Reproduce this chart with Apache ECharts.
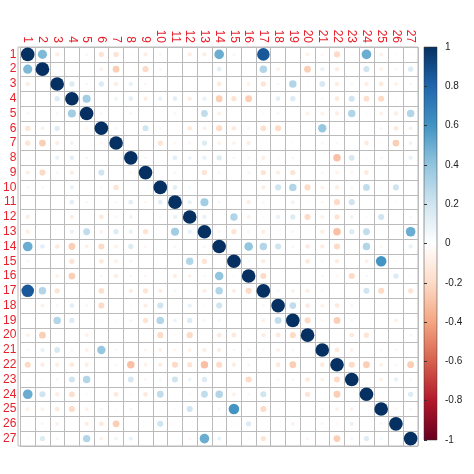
<!DOCTYPE html><html><head><meta charset="utf-8"><script src="https://cdn.jsdelivr.net/npm/echarts@6/dist/echarts.min.js"></script></head><body style="margin:0"><div id="c" style="width:474px;height:474px"></div><script>
const labels = Array.from({length:27},(_,i)=>String(i+1));
// upper triangle: row i, values for columns i+2..27
const upper = [
[0.45,-0.1,0,0.05,-0.15,-0.15,-0.03,-0.1,0.05,0.02,-0.1,-0.1,0.5,-0.05,0,0.85,0.02,0,-0.08,-0.05,-0.2,-0.03,0.5,-0.08,-0.03,-0.03],
[0,0.02,0.02,-0.08,-0.25,0,-0.2,0.05,0.02,0,0,0.12,0.02,0.02,0.3,-0.08,0,-0.25,0.1,-0.1,-0.03,0.2,-0.08,0.05,0.15],
[0.15,0.05,0.15,-0.1,0.1,-0.05,0,0,0,0,-0.12,0,-0.08,-0.15,-0.05,0.3,-0.02,0.18,-0.1,0.05,-0.1,-0.12,-0.08,-0.05],
[0.35,0,0.08,0.12,-0.1,0.1,0.12,-0.1,0.1,-0.25,-0.15,-0.25,0,0.12,0.15,0,-0.05,-0.12,0.2,-0.18,-0.2,0.02,0.02],
[-0.05,0.02,0.05,0.02,0.02,0.05,0,0.25,-0.08,0,0,0.03,0.05,0.02,-0.08,-0.08,-0.1,0.3,0.03,-0.08,-0.1,0.3],
[-0.05,0,0.2,-0.05,0,-0.12,-0.08,-0.2,-0.12,0.05,-0.18,-0.2,-0.03,0.02,0.38,-0.02,0,0,-0.05,-0.12,-0.08],
[0,-0.02,-0.15,-0.05,-0.05,0.15,-0.08,-0.08,-0.1,-0.02,0,-0.03,0,-0.05,-0.05,0,-0.12,-0.03,-0.25,0.08],
[-0.05,0,0.12,0.08,0.1,0.15,-0.05,0.05,-0.1,0.03,0.05,0,0,-0.3,0.18,0.03,-0.05,0,0.1],
[0,-0.05,0,-0.15,-0.05,0,-0.05,-0.15,-0.1,-0.15,0.02,-0.05,-0.08,-0.05,-0.12,0,0.02,0],
[0.12,0.05,0.02,0.02,0,0.02,-0.1,0.2,0.3,-0.2,-0.08,-0.1,0.05,0.25,0.03,0.2,0],
[0.1,0.35,0.05,0,-0.1,0.05,0.02,0.08,-0.03,-0.05,-0.2,0.2,0,-0.03,-0.03,0],
[0.1,0,0.3,-0.08,0.03,0.1,0.15,-0.2,-0.08,-0.15,0.08,0.03,0.2,0,-0.05],
[-0.05,-0.15,-0.05,-0.1,-0.03,-0.05,-0.02,-0.1,-0.3,0.15,0.25,0.02,0.02,0.5],
[0,0.4,0.3,0.2,-0.05,-0.12,-0.1,-0.2,0.02,0.3,-0.05,0.02,0.1],
[0.03,-0.1,0.02,0.02,-0.12,-0.05,-0.1,0.02,-0.08,0.6,0.03,0],
[-0.2,0,0,0.02,0.05,-0.05,-0.2,0.05,0,0.15,0.03],
[-0.05,-0.08,-0.1,-0.05,0,0,0.2,-0.2,0,-0.15],
[0.25,-0.12,-0.08,-0.12,0.05,0,-0.03,0,0],
[-0.2,-0.05,-0.25,0.05,0.02,0,-0.08,0],
[0,0,-0.12,-0.15,0,0,-0.05],
[-0.12,-0.08,0,-0.05,0.05,0],
[-0.2,-0.25,-0.08,-0.05,-0.25],
[0,-0.08,0.1,0.05],
[0,0,0.15],
[-0.05,0.05],
[0]
];
const colorTicks = [-1,-0.8,-0.6,-0.4,-0.2,0,0.2,0.4,0.6,0.8,1];
const palette = ['#67001F','#B2182B','#D6604D','#F4A582','#FDDBC7','#FFFFFF','#D1E5F0','#92C5DE','#4393C3','#2166AC','#053061'];
const n = labels.length;
const M = Array.from({length:n},()=>Array(n).fill(1));
upper.forEach((row,i)=>row.forEach((v,k)=>{const j=i+1+k;M[i][j]=v;M[j][i]=v;}));
const data=[];
for(let i=0;i<n;i++)for(let j=0;j<n;j++)data.push([j,i,M[i][j]]);
const L=18,T=47,R=418,B=446,cell=(R-L)/n;
const chart=echarts.init(document.getElementById('c'));
chart.setOption({
  animation:false,
  grid:[{left:L,top:T,width:R-L,height:B-T},{left:424,top:47,width:13,height:393}],
  xAxis:[{type:'category',data:labels,position:'top',gridIndex:0,axisLine:{show:false},axisTick:{show:false},
    axisLabel:{rotate:90,color:'#E8202A',fontSize:12,margin:4,interval:0,fontFamily:'Liberation Sans'},
    splitLine:{show:true,interval:0,lineStyle:{color:'#bbbbbb',width:1}}},
    {type:'value',gridIndex:1,show:false}],
  yAxis:[{type:'category',data:labels,inverse:true,gridIndex:0,axisLine:{show:false},axisTick:{show:false},
    axisLabel:{color:'#E8202A',fontSize:12,margin:4,interval:0,fontFamily:'Liberation Sans'},
    splitLine:{show:true,interval:0,lineStyle:{color:'#bbbbbb',width:1}}},
    {type:'value',gridIndex:1,min:-1,max:1,interval:0.2,position:'right',axisLine:{show:false},
     axisTick:{show:true,length:3,lineStyle:{color:'#333'}},splitLine:{show:false},
     axisLabel:{fontSize:10,color:'#222',margin:8,fontFamily:'Liberation Sans',formatter:v=>String(Math.round(v*10)/10)}}],
  visualMap:{show:false,type:'continuous',min:-1,max:1,dimension:2,seriesIndex:0,inRange:{color:palette}},
  graphic:[{type:'rect',shape:{x:424,y:47,width:13,height:393},style:{fill:new echarts.graphic.LinearGradient(0,1,0,0,palette.map((c,i)=>({offset:i/(palette.length-1),color:c}))),stroke:'#333',lineWidth:0.5}},
    {type:'rect',shape:{x:L,y:T,width:R-L,height:B-T},style:{fill:'none',stroke:'#bbbbbb',lineWidth:1}}],
  series:[{type:'scatter',xAxisIndex:0,yAxisIndex:0,data:data,symbol:'circle',itemStyle:{opacity:1},
    symbolSize:d=>Math.sqrt(Math.abs(d[2]))*cell*0.92}]
});
</script></body></html>
